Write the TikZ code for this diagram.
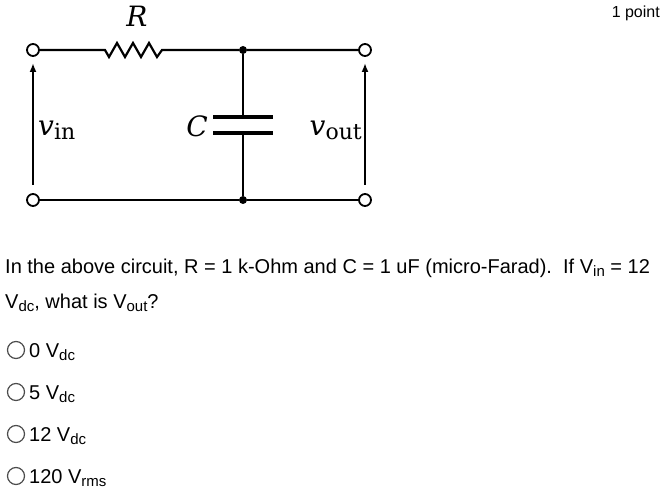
\documentclass[tikz,border=0pt]{standalone}
\usepackage{fontspec}
\setmainfont{Liberation Sans}
\newfontfamily\cfont{DejaVu Serif}
\usetikzlibrary{arrows.meta}
\newcommand{\lowsub}[1]{\raisebox{-0.35ex}{\fontsize{15}{15}\selectfont #1}}
\begin{document}
\begin{tikzpicture}[x=1pt,y=-1pt,
  wire/.style={line width=2.2pt},
  term/.style={circle,draw,line width=1.8pt,fill=white,minimum size=12pt,inner sep=0pt},
  dotj/.style={circle,fill=black,minimum size=8pt,inner sep=0pt},
  txt/.style={anchor=base west,inner sep=0pt,font=\fontsize{20}{24}\selectfont},
  clab/.style={inner sep=0pt,font=\cfont\fontsize{28}{28}\selectfont},
  radio/.style={circle,draw=black!70,line width=1.2pt,minimum size=17pt,inner sep=0pt}]
\useasboundingbox (0,0) rectangle (664,497);
\node[term] (tl) at (33,50) {};
\node[term] (bl) at (33,200) {};
\node[term] (tr) at (365,50) {};
\node[term] (br) at (365,200) {};
\node[dotj] (jt) at (243,50) {};
\node[dotj] (jb) at (243,200) {};
\coordinate (ra) at (105,50);
\coordinate (rb) at (166,50);
\coordinate (cp1) at (243,117);
\coordinate (cp2) at (243,133);
\draw[wire,line join=miter] (tl) -- (ra) -- ++(4,7) -- ++(8,-14) -- ++(8,14) -- ++(8,-14) -- ++(8,14) -- ++(8,-14) -- ++(8,14) -- ++(5,-7) -- (rb) -- (jt) -- (tr);
\draw[wire] (bl) -- (jb) -- (br);
\draw[wire] (jt) -- (cp1);
\draw[wire] (cp2) -- (jb);
\draw[line width=4.5pt] (213,117) -- (273,117);
\draw[line width=4.5pt] (213,133) -- (273,133);
\coordinate (a1s) at (33,185); \coordinate (a1e) at (33,63);
\coordinate (a2s) at (365,185); \coordinate (a2e) at (365,63);
\draw[line width=1.8pt,-{Latex[length=9pt,width=7pt]}] (a1s) -- (a1e);
\draw[line width=1.8pt,-{Latex[length=9pt,width=7pt]}] (a2s) -- (a2e);
\node[clab] (R) at (137,16) {\itshape R};
\node[clab,anchor=east] (C) at (208,126) {\itshape C};
\node[clab,anchor=base west] (vin) at (38,136) {\itshape v\textup{\fontsize{22}{22}\selectfont\raisebox{-0.3ex}{in}}};
\node[clab,anchor=base east] (vout) at (362,136) {\itshape v\textup{\fontsize{22}{22}\selectfont\raisebox{-0.3ex}{out}}};
\node[anchor=north east,inner sep=0pt,font=\fontsize{16}{18}\selectfont] (pt) at (660,6) {1 point};
\node[txt] (q1) at (5,273) {In the above circuit, R = 1 k-Ohm and C = 1 uF (micro-Farad).\ \ If V\lowsub{in} = 12};
\node[txt] (q2) at (5,308) {V\lowsub{dc}, what is V\lowsub{out}?};
\node[radio] (r1) at (16,350) {};
\node[txt] (o1) at (29,357) {0 V\lowsub{dc}};
\node[radio] (r2) at (16,392) {};
\node[txt] (o2) at (29,399) {5 V\lowsub{dc}};
\node[radio] (r3) at (16,434) {};
\node[txt] (o3) at (29,441) {12 V\lowsub{dc}};
\node[radio] (r4) at (16,476) {};
\node[txt] (o4) at (29,483) {120 V\lowsub{rms}};
\end{tikzpicture}
\end{document}
